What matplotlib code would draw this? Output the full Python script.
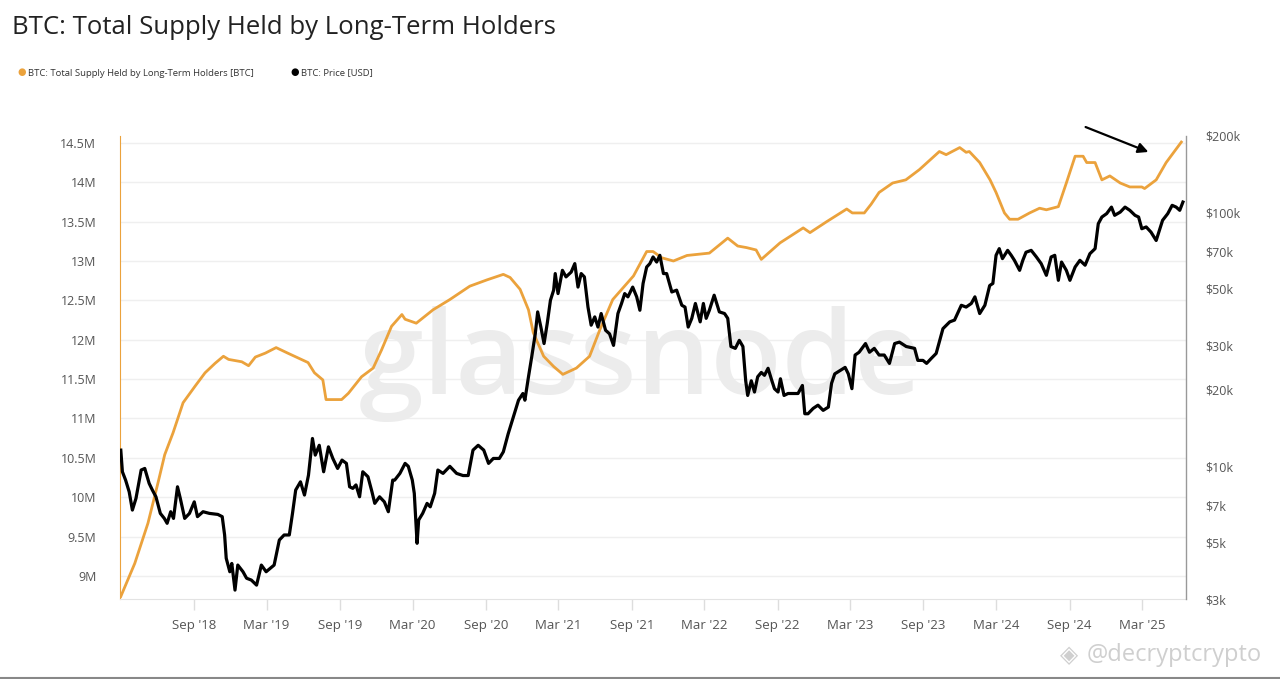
import matplotlib
matplotlib.use("Agg")
import matplotlib.pyplot as plt
from matplotlib.ticker import FixedLocator, FuncFormatter, NullLocator
import pandas as pd

# ---------------- data ----------------
lth_dates = ["2018-03-01", "2018-04-05", "2018-05-08", "2018-06-02", "2018-06-19", "2018-07-10",
             "2018-08-04", "2018-09-03", "2018-09-28", "2018-10-23", "2018-11-13", "2018-11-26",
             "2018-12-29", "2019-01-15", "2019-02-01", "2019-02-26", "2019-03-25", "2019-04-23",
             "2019-05-10", "2019-06-13", "2019-06-29", "2019-07-20", "2019-07-28", "2019-09-05",
             "2019-09-22", "2019-10-25", "2019-11-23", "2019-12-14", "2020-01-08", "2020-02-03",
             "2020-02-11", "2020-03-10", "2020-04-21", "2020-06-02", "2020-07-22", "2020-09-03",
             "2020-10-14", "2020-10-31", "2020-11-25", "2020-12-16", "2020-12-28", "2021-01-23",
             "2021-02-17", "2021-03-12", "2021-04-15", "2021-05-18", "2021-06-13", "2021-07-15",
             "2021-09-05", "2021-10-08", "2021-10-24", "2021-11-15", "2021-12-14", "2022-01-17",
             "2022-03-14", "2022-04-29", "2022-05-24", "2022-06-15", "2022-07-09", "2022-07-22",
             "2022-09-07", "2022-11-04", "2022-11-21", "2023-01-02", "2023-02-21", "2023-03-07",
             "2023-04-06", "2023-04-23", "2023-05-13", "2023-06-16", "2023-07-19", "2023-08-22",
             "2023-10-11", "2023-10-28", "2023-12-01", "2023-12-17", "2023-12-25", "2024-01-20",
             "2024-02-15", "2024-03-01", "2024-03-22", "2024-04-04", "2024-04-25", "2024-05-24",
             "2024-06-18", "2024-07-05", "2024-08-04", "2024-08-24", "2024-09-15", "2024-10-05",
             "2024-10-14", "2024-11-04", "2024-11-21", "2024-12-11", "2025-01-06", "2025-01-30",
             "2025-03-01", "2025-03-08", "2025-04-06", "2025-05-01", "2025-06-08"]
lth_supply_m = [8.74, 9.16, 9.67, 10.18, 10.54, 10.82,
                11.20, 11.41, 11.58, 11.70, 11.79, 11.75,
                11.72, 11.67, 11.78, 11.83, 11.90, 11.83,
                11.79, 11.71, 11.58, 11.49, 11.24, 11.24,
                11.32, 11.53, 11.64, 11.87, 12.17, 12.32,
                12.26, 12.21, 12.38, 12.51, 12.68, 12.76,
                12.83, 12.79, 12.64, 12.38, 12.09, 11.79,
                11.66, 11.56, 11.64, 11.79, 12.13, 12.51,
                12.81, 13.12, 13.12, 13.04, 13.00, 13.07,
                13.10, 13.29, 13.19, 13.17, 13.14, 13.02,
                13.23, 13.42, 13.36, 13.50, 13.66, 13.61,
                13.61, 13.72, 13.87, 13.99, 14.03, 14.16,
                14.39, 14.35, 14.44, 14.38, 14.39, 14.25,
                14.03, 13.87, 13.61, 13.53, 13.53, 13.61,
                13.67, 13.65, 13.69, 13.99, 14.33, 14.33,
                14.25, 14.25, 14.03, 14.08, 13.99, 13.94,
                13.94, 13.92, 14.03, 14.25, 14.51]

price_dates = [
    "2018-03-01", "2018-03-05", "2018-03-13", "2018-03-22", "2018-03-30", "2018-04-08",
    "2018-04-21", "2018-04-30", "2018-05-11", "2018-05-19", "2018-05-28", "2018-06-08",
    "2018-06-18", "2018-06-25", "2018-07-04", "2018-07-11", "2018-07-21", "2018-07-28",
    "2018-08-08", "2018-08-20", "2018-09-01", "2018-09-09", "2018-09-23", "2018-10-09",
    "2018-10-30", "2018-11-10", "2018-11-16", "2018-11-20", "2018-11-29", "2018-12-04",
    "2018-12-12", "2018-12-19", "2019-01-01", "2019-01-10", "2019-01-22", "2019-02-04",
    "2019-02-16", "2019-02-28", "2019-03-20", "2019-04-02", "2019-04-14", "2019-04-27",
    "2019-05-05", "2019-05-13", "2019-05-25", "2019-06-04", "2019-06-14", "2019-06-24",
    "2019-07-01", "2019-07-11", "2019-07-22", "2019-08-03", "2019-08-14", "2019-08-26",
    "2019-09-06", "2019-09-17", "2019-09-25", "2019-10-03", "2019-10-11", "2019-10-20",
    "2019-10-28", "2019-11-10", "2019-11-20", "2019-11-27", "2019-12-09", "2019-12-21",
    "2019-12-31", "2020-01-11", "2020-01-16", "2020-01-29", "2020-02-11", "2020-02-19",
    "2020-02-29", "2020-03-05", "2020-03-12", "2020-03-16", "2020-03-26", "2020-04-06",
    "2020-04-14", "2020-04-25", "2020-05-03", "2020-05-16", "2020-06-02", "2020-06-19",
    "2020-07-05", "2020-07-18", "2020-07-30", "2020-08-12", "2020-08-26", "2020-09-07",
    "2020-09-19", "2020-10-04", "2020-10-14", "2020-10-26", "2020-11-08", "2020-11-21",
    "2020-12-02", "2020-12-07", "2020-12-16", "2020-12-24", "2021-01-02", "2021-01-08",
    "2021-01-16", "2021-01-24", "2021-02-01", "2021-02-09", "2021-02-17", "2021-02-21",
    "2021-02-28", "2021-03-11", "2021-03-20", "2021-04-02", "2021-04-11", "2021-04-19",
    "2021-04-27", "2021-05-05", "2021-05-14", "2021-05-22", "2021-05-31", "2021-06-08",
    "2021-06-16", "2021-06-27", "2021-07-07", "2021-07-17", "2021-07-28", "2021-08-06",
    "2021-08-14", "2021-08-22", "2021-09-03", "2021-09-13", "2021-09-21", "2021-09-29",
    "2021-10-08", "2021-10-16", "2021-10-24", "2021-11-02", "2021-11-10", "2021-11-19",
    "2021-11-27", "2021-12-10", "2021-12-22", "2022-01-04", "2022-01-12", "2022-01-20",
    "2022-01-29", "2022-02-07", "2022-02-19", "2022-02-27", "2022-03-06", "2022-03-14",
    "2022-03-26", "2022-04-08", "2022-04-21", "2022-04-29", "2022-05-07", "2022-05-18",
    "2022-05-28", "2022-06-06", "2022-06-13", "2022-06-18", "2022-06-27", "2022-07-05",
    "2022-07-13", "2022-07-22", "2022-07-30", "2022-08-08", "2022-08-16", "2022-08-24",
    "2022-09-02", "2022-09-08", "2022-09-17", "2022-09-27", "2022-10-10", "2022-10-22",
    "2022-11-02", "2022-11-08", "2022-11-16", "2022-11-29", "2022-12-11", "2022-12-24",
    "2023-01-06", "2023-01-14", "2023-01-22", "2023-02-04", "2023-02-17", "2023-02-25",
    "2023-03-06", "2023-03-14", "2023-03-24", "2023-04-09", "2023-04-19", "2023-05-01",
    "2023-05-13", "2023-05-26", "2023-06-08", "2023-06-21", "2023-07-03", "2023-07-20",
    "2023-08-10", "2023-08-18", "2023-08-31", "2023-09-09", "2023-09-21", "2023-10-03",
    "2023-10-20", "2023-11-06", "2023-11-18", "2023-12-05", "2023-12-17", "2023-12-30",
    "2024-01-08", "2024-01-20", "2024-02-02", "2024-02-14", "2024-02-22", "2024-03-01",
    "2024-03-09", "2024-03-17", "2024-03-30", "2024-04-08", "2024-04-16", "2024-04-29",
    "2024-05-07", "2024-05-15", "2024-05-28", "2024-06-10", "2024-06-22", "2024-07-05",
    "2024-07-17", "2024-07-26", "2024-08-04", "2024-08-12", "2024-08-24", "2024-09-02",
    "2024-09-15", "2024-09-27", "2024-10-10", "2024-10-22", "2024-11-04", "2024-11-12",
    "2024-11-21", "2024-12-03", "2024-12-15", "2024-12-23", "2025-01-06", "2025-01-18",
    "2025-01-30", "2025-02-12", "2025-02-21", "2025-03-01", "2025-03-12", "2025-03-24",
    "2025-04-06", "2025-04-14", "2025-04-22", "2025-05-05", "2025-05-16", "2025-05-26",
    "2025-06-04", "2025-06-12"]
price_k = [
    11.58, 9.52, 8.83, 7.94, 6.73, 7.48,
    9.67, 9.81, 8.57, 8.07, 7.59, 6.53,
    6.24, 5.97, 6.63, 6.24, 8.31, 7.48,
    6.24, 6.53, 7.25, 6.34, 6.63, 6.53,
    6.47, 6.34, 5.37, 4.35, 3.85, 4.15,
    3.26, 4.09, 3.85, 3.63, 3.57, 3.41,
    4.09, 3.85, 4.09, 5.13, 5.37, 5.37,
    6.53, 8.07, 8.69, 7.71, 9.23, 12.87,
    11.07, 12.10, 9.52, 11.93, 10.74, 9.81,
    10.58, 10.27, 8.31, 8.19, 8.45, 7.59,
    9.52, 9.10, 7.94, 7.15, 7.59, 7.25,
    6.63, 8.83, 8.83, 9.38, 10.27, 10.00,
    8.83, 7.83, 4.98, 6.15, 6.53, 7.15,
    6.93, 7.83, 9.67, 9.38, 10.00, 9.38,
    9.20, 9.20, 11.58, 12.10, 11.58, 10.27,
    10.74, 10.74, 11.40, 13.40, 15.60, 18.20,
    19.34, 18.20, 22.50, 26.90, 33.20, 40.50,
    35.30, 30.40, 36.50, 45.00, 49.30, 57.30,
    47.80, 59.00, 55.60, 58.10, 62.70, 50.70,
    57.30, 55.60, 42.30, 35.90, 38.70, 35.30,
    39.90, 34.30, 33.20, 29.90, 39.90, 43.70,
    47.80, 46.40, 50.70, 46.40, 41.10, 52.40,
    60.80, 62.70, 66.60, 63.60, 67.60, 57.30,
    57.30, 48.50, 49.30, 43.00, 42.30, 35.30,
    38.20, 43.70, 37.00, 43.70, 38.20, 41.10,
    47.10, 40.50, 39.90, 38.20, 29.60, 29.10,
    31.30, 29.60, 21.70, 19.00, 21.70, 19.60,
    22.50, 23.40, 22.80, 24.30, 22.10, 20.20,
    19.60, 22.10, 19.00, 19.34, 19.34, 19.34,
    20.80, 16.10, 16.10, 16.90, 17.40, 16.60,
    17.10, 21.20, 23.10, 23.80, 24.50, 23.10,
    20.20, 27.40, 28.10, 30.40, 28.10, 29.10,
    27.40, 27.40, 25.40, 30.40, 30.80, 29.60,
    29.10, 26.10, 26.10, 25.40, 26.60, 27.80,
    34.80, 37.00, 37.60, 43.00, 42.30, 43.70,
    46.40, 39.90, 43.00, 51.40, 52.40, 67.60,
    71.80, 65.60, 70.70, 67.60, 64.60, 59.00,
    64.60, 69.50, 70.70, 66.60, 62.70, 56.40,
    66.60, 67.60, 53.90, 63.60, 59.00, 53.90,
    60.80, 64.60, 61.80, 68.60, 71.80, 90.00,
    95.60, 98.60, 104.60, 97.10, 100.00, 104.60,
    101.60, 97.10, 95.60, 86.00, 87.40, 83.40,
    77.30, 84.80, 92.80, 98.60, 106.30, 104.60,
    101.60, 109.50]

x_tick_dates = ["2018-09-01", "2019-03-01", "2019-09-01", "2020-03-01", "2020-09-01", "2021-03-01",
                "2021-09-01", "2022-03-01", "2022-09-01", "2023-03-01", "2023-09-01", "2024-03-01",
                "2024-09-01", "2025-03-01"]
x_tick_labels = ["Sep '18", "Mar '19", "Sep '19", "Mar '20", "Sep '20", "Mar '21", "Sep '21",
                 "Mar '22", "Sep '22", "Mar '23", "Sep '23", "Mar '24", "Sep '24", "Mar '25"]
left_ticks_m = [9, 9.5, 10, 10.5, 11, 11.5, 12, 12.5, 13, 13.5, 14, 14.5]
right_ticks = [3000, 5000, 7000, 10000, 20000, 30000, 50000, 70000, 100000, 200000]
right_tick_labels = ["$3k", "$5k", "$7k", "$10k", "$20k", "$30k", "$50k", "$70k", "$100k", "$200k"]

# ---------------- style ----------------
ORANGE = "#eba23c"
TXT = "#555555"
plt.rcParams['font.family'] = ['Open Sans', 'DejaVu Sans']

fig = plt.figure(figsize=(12.8, 6.79), dpi=100)
fig.patch.set_facecolor("white")
ax = fig.add_axes([0.09375, 0.1174, 0.8326, 0.6830])
ax2 = ax.twinx()

n_p = min(len(price_dates), len(price_k))
ld = pd.to_datetime(lth_dates)
pdts = pd.to_datetime(price_dates[:n_p])

ax.plot(ld, [v * 1e6 for v in lth_supply_m], color=ORANGE, lw=2.0, zorder=3, solid_joinstyle='round')
ax2.plot(pdts, [v * 1000 for v in price_k[:n_p]], color="black", lw=2.3, zorder=3,
         solid_joinstyle='round')

ax.set_xlim(pd.Timestamp("2018-02-27"), pd.Timestamp("2025-06-19"))
ax.set_ylim(8.704e6, 14.593e6)
ax2.set_yscale("log")
ax2.set_ylim(3000, 200000)

# left axis
ax.yaxis.set_major_locator(FixedLocator([v * 1e6 for v in left_ticks_m]))
ax.yaxis.set_major_formatter(FuncFormatter(lambda v, p: f"{v/1e6:g}M"))
ax.tick_params(axis='y', length=0, pad=17, labelsize=9, labelcolor=TXT)
ax.grid(axis='y', color="#efefef", lw=1.0, zorder=0)
ax.set_axisbelow(True)

# right axis
ax2.yaxis.set_major_locator(FixedLocator(right_ticks))
ax2.yaxis.set_minor_locator(NullLocator())
ax2.set_yticklabels(right_tick_labels)
ax2.tick_params(axis='y', length=0, pad=14, labelsize=9, labelcolor=TXT)

# x axis
ax.set_xticks(pd.to_datetime(x_tick_dates))
ax.set_xticklabels(x_tick_labels)
ax.tick_params(axis='x', length=8, width=1, color="#dddddd", pad=6, labelsize=9.5, labelcolor=TXT)

for a in (ax, ax2):
    a.spines['top'].set_visible(False)
ax.spines['left'].set_color(ORANGE)
ax.spines['left'].set_linewidth(0.8)
ax.spines['bottom'].set_color("#e3e3e3")
ax.spines['right'].set_visible(False)
ax2.spines['left'].set_visible(False)
ax2.spines['bottom'].set_visible(False)
ax2.spines['right'].set_color("#999999")
ax2.spines['right'].set_linewidth(1.0)

# watermark (drawn inside the lower axes so both lines stay on top)
ax.text(640 / 1280, 1 - 394 / 679, "glassnode", transform=fig.transFigure,
        ha='center', va='baseline', fontsize=84, fontweight='semibold', color="#ececec",
        zorder=1, family=['Open Sans', 'DejaVu Sans'])

# title and legend
fig.text(12 / 1280, 1 - 28 / 679, "BTC: Total Supply Held by Long-Term Holders",
         fontsize=18.5, color="#222222", va='center', ha='left')
fig.text(17 / 1280, 1 - 73 / 679, "●", fontsize=7, color=ORANGE, va='center', ha='left')
fig.text(28 / 1280, 1 - 73 / 679, "BTC: Total Supply Held by Long-Term Holders [BTC]",
         fontsize=6.8, color="#333333", va='center', ha='left')
fig.text(290 / 1280, 1 - 73 / 679, "●", fontsize=7, color="black", va='center', ha='left')
fig.text(301 / 1280, 1 - 73 / 679, "BTC: Price [USD]",
         fontsize=6.8, color="#333333", va='center', ha='left')

# arrow
fig.add_artist(matplotlib.patches.FancyArrowPatch(
    (1083 / 1280, 1 - 126 / 679), (1151 / 1280, 1 - 153 / 679), transform=fig.transFigure,
    arrowstyle='-|>,head_length=6,head_width=3', color='black', lw=1.6))

# bottom watermark
fig.text(1060 / 1280, 1 - 655 / 679, "◈", fontsize=17, color="#cfcfcf", va='center', ha='left',
         family=['DejaVu Sans'])
fig.text(1087 / 1280, 1 - 655 / 679, "@decryptcrypto", fontsize=17, color="#cfcfcf",
         va='center', ha='left', family=['Open Sans', 'DejaVu Sans'])
fig.add_artist(matplotlib.lines.Line2D([0, 1], [1 - 678 / 679] * 2, transform=fig.transFigure,
                                       color="#888888", lw=1.5))

fig.savefig("out.png", dpi=100)
